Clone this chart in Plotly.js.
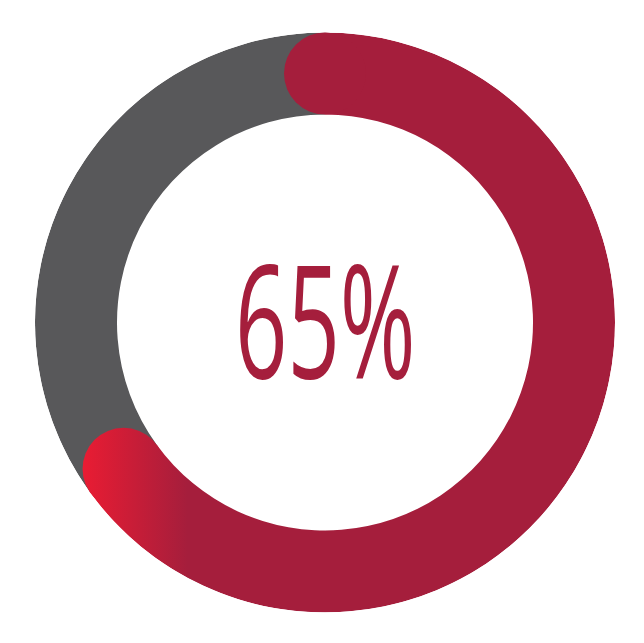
<!DOCTYPE html>
<html>
<head>
<meta charset="utf-8">
<script src="https://cdn.plot.ly/plotly-3.0.1.min.js"></script>
<style>
  html, body { margin: 0; padding: 0; background: #ffffff; }
  #chart { width: 644px; height: 643px; }
  /* the reference uses a condensed face; squeeze the centre label */
  .annotation-text {
    transform-box: fill-box;
    transform-origin: center;
    transform: scaleX(0.58);
  }
</style>
</head>
<body>
<div id="chart"></div>
<script>
// Progress ring: share done vs. remaining
const labels = ["Done", "Remaining"];
const values = [65, 35];
const centerLabel = "65%";

const RED = "#a51e3c";
const RED_BRIGHT = "#e91c33";
const GRAY = "#58585a";

// ring geometry in px (page is 644 x 643, no margins)
const W = 644, H = 643;
const CX = 325, CY = 322.5;          // from top-left
const R_OUT = 290, R_IN = 208;
const BAND = R_OUT - R_IN;
const R_MID = (R_OUT + R_IN) / 2;

const total = values.reduce((a, b) => a + b, 0);
const spans = values.map(v => v / total * 360);
const starts = spans.map((s, i) => spans.slice(0, i).reduce((a, b) => a + b, 0));

// both slices as annular bars, clockwise from 12 o'clock
const ring = {
    type: "barpolar",
    r: values.map(() => BAND),
    base: values.map(() => R_IN),
    theta: starts.map((s, i) => s + spans[i] / 2),
    width: spans,
    text: labels,
    marker: { color: [RED, GRAY], line: { width: 0 } },
    hoverinfo: "text",
    showlegend: false,
};

// round caps at both ends of the red arc
const caps = {
    type: "scatterpolar",
    mode: "markers",
    r: [R_MID, R_MID],
    theta: [starts[0], starts[0] + spans[0]],
    marker: { size: BAND, color: RED, line: { width: 0 } },
    hoverinfo: "skip",
    showlegend: false,
};

const layout = {
    width: W,
    height: H,
    margin: { t: 0, b: 0, l: 0, r: 0 },
    paper_bgcolor: "#ffffff",
    polar: {
        domain: {
            x: [(CX - R_OUT) / W, (CX + R_OUT) / W],
            y: [(H - CY - R_OUT) / H, (H - CY + R_OUT) / H],
        },
        bgcolor: "rgba(0,0,0,0)",
        radialaxis: { range: [0, R_OUT], visible: false },
        angularaxis: { rotation: 90, direction: "clockwise", visible: false },
    },
    annotations: [{
        text: centerLabel,
        x: CX / W, y: 1 - CY / H, xref: "paper", yref: "paper",
        xanchor: "center", yanchor: "middle", yshift: 6,
        showarrow: false,
        font: { family: "Open Sans, sans-serif", weight: 400, size: 158, color: RED },
    }],
};

// red fades to a brighter red towards the end cap (left side)
function shadeArcEnd(gd) {
    const ns = "http://www.w3.org/2000/svg";
    const svg = gd.querySelector("svg.main-svg");
    const defs = svg.querySelector("defs");
    const endX = CX + R_MID * Math.sin(spans[0] * Math.PI / 180);
    const x0 = endX - BAND / 2, x1 = x0 + 105;
    const targets = [
        gd.querySelectorAll(".barlayer path")[0],
        gd.querySelectorAll(".scatterlayer path.point")[1],
    ];
    targets.forEach((el, i) => {
        if (!el) return;
        const inv = el.getScreenCTM().inverse();
        const p = svg.createSVGPoint();
        p.x = x0; p.y = CY;
        const a = p.matrixTransform(inv);
        p.x = x1;
        const b = p.matrixTransform(inv);
        const g = document.createElementNS(ns, "linearGradient");
        g.setAttribute("id", "arcEnd" + i);
        g.setAttribute("gradientUnits", "userSpaceOnUse");
        g.setAttribute("x1", a.x); g.setAttribute("y1", a.y);
        g.setAttribute("x2", b.x); g.setAttribute("y2", b.y);
        [[0, RED_BRIGHT], [1, RED]].forEach(([off, col]) => {
            const s = document.createElementNS(ns, "stop");
            s.setAttribute("offset", off);
            s.setAttribute("stop-color", col);
            g.appendChild(s);
        });
        defs.appendChild(g);
        el.style.fill = "url(#arcEnd" + i + ")";
    });
}

Plotly.newPlot("chart", [ring, caps], layout, { staticPlot: true }).then(shadeArcEnd);
</script>
</body>
</html>
